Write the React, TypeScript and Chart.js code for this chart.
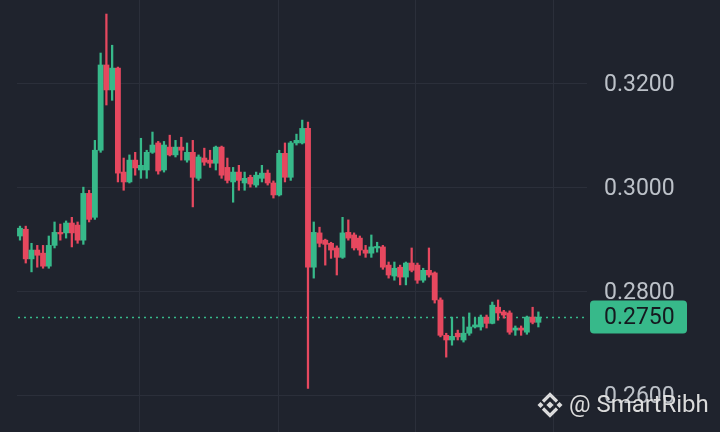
import React, { useEffect, useRef } from "react";
import { Chart, registerables } from "chart.js";

Chart.register(...registerables);

// OHLC values (91 candles)
const opens = [
  0.2906, 0.2919, 0.2862, 0.2879, 0.2873, 0.2848, 0.2888, 0.2913, 0.2912, 0.2931,
  0.2927, 0.2898, 0.2988, 0.2942, 0.3071, 0.3235, 0.3187, 0.3229, 0.3029, 0.3010,
  0.3052, 0.3033, 0.3033, 0.3067, 0.3085, 0.3033, 0.3077, 0.3062, 0.3077, 0.3052,
  0.3067, 0.3017, 0.3056, 0.3052, 0.3046, 0.3077, 0.3038, 0.3010, 0.3029, 0.3008,
  0.3019, 0.3004, 0.3017, 0.3027, 0.3008, 0.2985, 0.3065, 0.3019, 0.3085, 0.3085,
  0.3113, 0.2846, 0.2912, 0.2898, 0.2892, 0.2883, 0.2865, 0.2913, 0.2908, 0.2902,
  0.2879, 0.2873, 0.2883, 0.2885, 0.2850, 0.2829, 0.2846, 0.2827, 0.2854, 0.2850,
  0.2821, 0.2840, 0.2835, 0.2783, 0.2715, 0.2706, 0.2719, 0.2706, 0.2719, 0.2731,
  0.2731, 0.2750, 0.2738, 0.2769, 0.2760, 0.2758, 0.2725, 0.2729, 0.2721, 0.2750,
  0.2740,
];
const highs = [
  0.2925, 0.2925, 0.2892, 0.2888, 0.2888, 0.2906, 0.2933, 0.2929, 0.2935, 0.2942,
  0.2933, 0.3000, 0.2994, 0.3090, 0.3258, 0.3333, 0.3273, 0.3231, 0.3056, 0.3062,
  0.3067, 0.3094, 0.3071, 0.3106, 0.3088, 0.3088, 0.3100, 0.3090, 0.3096, 0.3085,
  0.3090, 0.3062, 0.3075, 0.3071, 0.3079, 0.3079, 0.3056, 0.3038, 0.3042, 0.3029,
  0.3023, 0.3029, 0.3042, 0.3033, 0.3012, 0.3071, 0.3085, 0.3088, 0.3102, 0.3129,
  0.3125, 0.2933, 0.2923, 0.2900, 0.2894, 0.2887, 0.2942, 0.2937, 0.2912, 0.2906,
  0.2888, 0.2908, 0.2894, 0.2888, 0.2856, 0.2856, 0.2850, 0.2856, 0.2883, 0.2854,
  0.2844, 0.2883, 0.2837, 0.2787, 0.2719, 0.2750, 0.2725, 0.2750, 0.2758, 0.2748,
  0.2754, 0.2754, 0.2779, 0.2783, 0.2763, 0.2762, 0.2733, 0.2733, 0.2752, 0.2769,
  0.2760,
];
const lows = [
  0.2898, 0.2854, 0.2837, 0.2846, 0.2844, 0.2844, 0.2883, 0.2898, 0.2902, 0.2885,
  0.2892, 0.2890, 0.2933, 0.2938, 0.3067, 0.3158, 0.3167, 0.3010, 0.2994, 0.3008,
  0.3023, 0.3017, 0.3017, 0.3065, 0.3025, 0.3029, 0.3060, 0.3058, 0.3052, 0.3048,
  0.2962, 0.3013, 0.3042, 0.3038, 0.3033, 0.3017, 0.3008, 0.2971, 0.2994, 0.2994,
  0.3000, 0.3000, 0.3010, 0.3004, 0.2979, 0.2983, 0.3010, 0.3013, 0.3081, 0.3083,
  0.2613, 0.2825, 0.2885, 0.2850, 0.2863, 0.2831, 0.2863, 0.2898, 0.2879, 0.2869,
  0.2865, 0.2865, 0.2875, 0.2842, 0.2825, 0.2821, 0.2812, 0.2812, 0.2837, 0.2815,
  0.2817, 0.2827, 0.2777, 0.2712, 0.2673, 0.2696, 0.2706, 0.2702, 0.2715, 0.2729,
  0.2725, 0.2729, 0.2737, 0.2744, 0.2748, 0.2717, 0.2715, 0.2715, 0.2717, 0.2737,
  0.2731,
];
const closes = [
  0.2921, 0.2862, 0.2879, 0.2869, 0.2848, 0.2888, 0.2913, 0.2910, 0.2931, 0.2912,
  0.2898, 0.2988, 0.2938, 0.3071, 0.3235, 0.3187, 0.3229, 0.3027, 0.3010, 0.3052,
  0.3037, 0.3042, 0.3067, 0.3081, 0.3031, 0.3081, 0.3062, 0.3077, 0.3071, 0.3067,
  0.3019, 0.3058, 0.3048, 0.3046, 0.3077, 0.3023, 0.3013, 0.3029, 0.3013, 0.3017,
  0.3006, 0.3023, 0.3027, 0.3008, 0.2985, 0.3065, 0.3019, 0.3085, 0.3090, 0.3113,
  0.2846, 0.2913, 0.2892, 0.2890, 0.2879, 0.2865, 0.2912, 0.2902, 0.2883, 0.2879,
  0.2873, 0.2885, 0.2886, 0.2846, 0.2831, 0.2844, 0.2827, 0.2854, 0.2840, 0.2821,
  0.2840, 0.2831, 0.2783, 0.2715, 0.2706, 0.2713, 0.2712, 0.2719, 0.2731, 0.2735,
  0.2750, 0.2738, 0.2773, 0.2758, 0.2754, 0.2721, 0.2729, 0.2725, 0.2750, 0.2740,
  0.2750,
];

const yTicks = [0.26, 0.28, 0.3, 0.32];
const xGridAt = [20.8, 44.8, 68.75, 92.7];
const watermarkText = "@ SmartRibh";

const BG = "#1f232d";
const GRID = "#2b2f3a";
const UP = "#37b98a";
const DOWN = "#e6485f";
const LABEL = "#bcc1c8";
const FONT = "Roboto";

const lastClose = closes[closes.length - 1];

const overlayPlugin = {
  id: "overlay",
  beforeDraw(chart: any) {
    const { ctx, width, height } = chart;
    ctx.save();
    ctx.fillStyle = BG;
    ctx.fillRect(0, 0, width, height);
    ctx.restore();
  },
  beforeDatasetsDraw(chart: any) {
    const { ctx, chartArea } = chart;
    const y = Math.round(chart.scales.y.getPixelForValue(lastClose)) + 0.5;
    ctx.save();
    ctx.strokeStyle = UP;
    ctx.lineWidth = 1.6;
    ctx.setLineDash([2, 4]);
    ctx.beginPath();
    ctx.moveTo(chartArea.left + 1, y);
    ctx.lineTo(chartArea.right, y);
    ctx.stroke();
    ctx.restore();
  },
  afterDraw(chart: any) {
    const { ctx, chartArea } = chart;
    const y = chart.scales.y.getPixelForValue(lastClose);
    ctx.save();
    // price tag
    const bx = chartArea.right + 3;
    const bw = 97;
    const bh = 33;
    ctx.fillStyle = UP;
    ctx.beginPath();
    (ctx as any).roundRect(bx, y - bh / 2, bw, bh, 4);
    ctx.fill();
    ctx.fillStyle = "#15191f";
    ctx.font = `23px ${FONT}`;
    ctx.textAlign = "left";
    ctx.textBaseline = "middle";
    ctx.fillText(lastClose.toFixed(4), chartArea.right + 17, y + 1);

    // watermark: logo
    const cx = 550;
    const cy = 405;
    ctx.fillStyle = "rgba(235,235,235,0.92)";
    ctx.strokeStyle = "rgba(235,235,235,0.92)";
    const diamond = (x: number, yy: number, r: number) => {
      ctx.beginPath();
      ctx.moveTo(x, yy - r);
      ctx.lineTo(x + r, yy);
      ctx.lineTo(x, yy + r);
      ctx.lineTo(x - r, yy);
      ctx.closePath();
      ctx.fill();
    };
    diamond(cx, cy, 3.6);
    diamond(cx - 9.5, cy, 3);
    diamond(cx + 9.5, cy, 3);
    ctx.lineWidth = 3.2;
    ctx.lineJoin = "miter";
    ctx.beginPath();
    ctx.moveTo(cx - 7, cy - 3.5);
    ctx.lineTo(cx, cy - 10.5);
    ctx.lineTo(cx + 7, cy - 3.5);
    ctx.stroke();
    ctx.beginPath();
    ctx.moveTo(cx - 7, cy + 3.5);
    ctx.lineTo(cx, cy + 10.5);
    ctx.lineTo(cx + 7, cy + 3.5);
    ctx.stroke();

    // watermark: text
    ctx.shadowColor = "rgba(0,0,0,0.35)";
    ctx.shadowBlur = 2;
    ctx.font = `24px ${FONT}`;
    ctx.textAlign = "left";
    ctx.textBaseline = "middle";
    ctx.fillText(watermarkText, 569, cy + 1);
    ctx.restore();
  },
};

export default function App() {
  const canvasRef = useRef<HTMLCanvasElement | null>(null);

  useEffect(() => {
    document.body.style.margin = "0";
    document.body.style.background = BG;
    const canvas = canvasRef.current;
    if (!canvas) return;

    const isUp = (i: number) => closes[i] >= opens[i];
    const wickData = highs.map((h, i) => ({ x: i, y: [lows[i], h] }));
    const bodyData = opens.map((o, i) => ({ x: i, y: [o, closes[i]] }));
    const colors = closes.map((_, i) => (isUp(i) ? UP : DOWN));

    const chart = new Chart(canvas, {
      type: "bar",
      data: {
        datasets: [
          {
            label: "wick",
            data: wickData as any,
            backgroundColor: colors,
            barThickness: 1.6,
            grouped: false,
            borderWidth: 0,
          } as any,
          {
            label: "body",
            data: bodyData as any,
            backgroundColor: colors,
            barThickness: 5.2,
            grouped: false,
            borderWidth: 0,
          } as any,
        ],
      },
      options: {
        animation: false,
        responsive: false,
        maintainAspectRatio: false,
        layout: { padding: { left: 17, right: 0, top: 0, bottom: 0 } },
        plugins: {
          legend: { display: false },
          tooltip: { enabled: false },
        },
        scales: {
          x: {
            type: "linear",
            min: -0.52,
            max: 98.44,
            offset: false,
            grid: { color: GRID, lineWidth: 1, drawTicks: false, offset: false },
            border: { display: false },
            ticks: { display: false },
            afterBuildTicks: (scale: any) => {
              scale.ticks = xGridAt.map((v) => ({ value: v }));
            },
            afterFit: (scale: any) => {
              scale.height = 0;
            },
          },
          y: {
            type: "linear",
            position: "right",
            min: 0.2529,
            max: 0.336,
            grid: { color: GRID, lineWidth: 1, drawTicks: false },
            border: { display: false },
            ticks: {
              color: LABEL,
              padding: 17,
              labelOffset: 2,
              font: { family: FONT, size: 23 },
              callback: (v: any) => Number(v).toFixed(4),
            },
            afterBuildTicks: (scale: any) => {
              scale.ticks = yTicks.map((v) => ({ value: v }));
            },
            afterFit: (scale: any) => {
              scale.width = 133;
              scale.paddingTop = 0;
              scale.paddingBottom = 0;
            },
          },
        },
      } as any,
      plugins: [overlayPlugin],
    });

    return () => {
      chart.destroy();
    };
  }, []);

  return (
    <div style={{ width: 720, height: 432, background: BG }}>
      <canvas ref={canvasRef} width={720} height={432} style={{ display: "block", width: 720, height: 432 }} />
    </div>
  );
}
